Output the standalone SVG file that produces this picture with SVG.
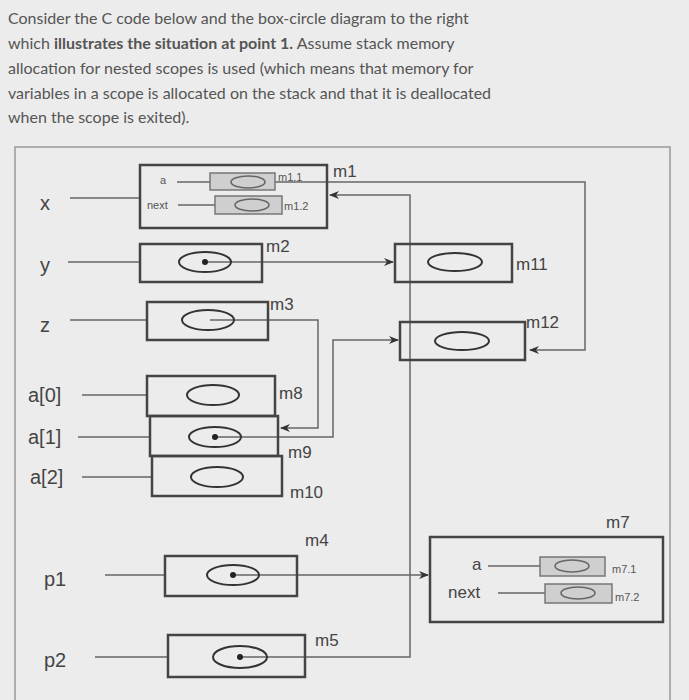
<svg xmlns="http://www.w3.org/2000/svg" width="689" height="700" viewBox="0 0 689 700">
<style>
.p{font-family:"Lato","Liberation Sans",sans-serif;font-size:16px;fill:#555}
.l{font-family:"Liberation Sans",sans-serif;font-size:20px;fill:#444}
.s{font-family:"Liberation Sans",sans-serif;font-size:17px;fill:#444}
.t{font-family:"Liberation Sans",sans-serif;font-size:11px;fill:#555}
.b{fill:none;stroke:#444;stroke-width:2.5}
.g{fill:#cfcfcf;stroke:#777;stroke-width:1.5}
.e{fill:none;stroke:#333;stroke-width:2}
.c{fill:none;stroke:#666;stroke-width:1.5}
</style>
<defs><marker id="a" markerWidth="10" markerHeight="8" refX="9" refY="4" orient="auto" markerUnits="userSpaceOnUse"><path d="M0,0 L10,4 L0,8 L3,4z" fill="#333"/></marker></defs>
<rect width="689" height="700" fill="#ececec"/>
<text class="p" x="8" y="24">Consider the C code below and the box-circle diagram to the right</text>
<text class="p" x="8" y="49">which <tspan font-weight="bold">illustrates the situation at point 1.</tspan> Assume stack memory</text>
<text class="p" x="8" y="74">allocation for nested scopes is used (which means that memory for</text>
<text class="p" x="8" y="99">variables in a scope is allocated on the stack and that it is deallocated</text>
<text class="p" x="8" y="123">when the scope is exited).</text>
<rect x="15" y="147" width="655" height="560" fill="none" stroke="#999" stroke-width="1.5"/>
<g id="connectors" class="c">
<line x1="70" y1="198" x2="140" y2="198"/>
<line x1="68" y1="262" x2="140" y2="262"/>
<line x1="70" y1="320" x2="147" y2="320"/>
<line x1="82" y1="395" x2="147" y2="395"/>
<line x1="78" y1="437" x2="150" y2="437"/>
<line x1="82" y1="477" x2="152" y2="477"/>
<line x1="105" y1="575" x2="165" y2="575"/>
<line x1="95" y1="657" x2="168" y2="657"/>
<line x1="177" y1="182" x2="210" y2="182"/>
<line x1="178" y1="205" x2="215" y2="205"/>
<line x1="488" y1="566" x2="540" y2="566"/>
<line x1="498" y1="593" x2="545" y2="593"/>
<polyline points="248,182 585,182 585,350 530,350" marker-end="url(#a)"/>
<line x1="205" y1="262" x2="393" y2="262" marker-end="url(#a)"/>
<polyline points="210,320 318,320 318,428 281,428" marker-end="url(#a)"/>
<polyline points="215,437 333,437 333,340 398,340" marker-end="url(#a)"/>
<line x1="233" y1="575" x2="428" y2="575" marker-end="url(#a)"/>
<polyline points="240,657 410,657 410,195 330,195" marker-end="url(#a)"/>
</g>
<g id="m1"><rect class="b" x="140" y="165" width="187" height="63"/>
<text class="t" x="160" y="184">a</text><text class="t" x="147" y="209">next</text>
<rect class="g" x="210" y="173" width="65" height="17"/><ellipse class="c" cx="248" cy="182" rx="17" ry="6"/>
<rect class="g" x="215" y="196" width="67" height="18"/><ellipse class="c" cx="252" cy="205" rx="17" ry="6"/>
<text class="t" x="278" y="181">m1.1</text><text class="t" x="284" y="210">m1.2</text>
<text class="s" x="333" y="177">m1</text></g>
<g id="m2"><rect class="b" x="140" y="244" width="122" height="38"/><ellipse class="e" cx="205" cy="262" rx="26" ry="10"/><circle cx="205" cy="262" r="3" fill="#222"/><text class="s" x="266" y="252">m2</text></g>
<g id="m3"><rect class="b" x="147" y="302" width="121" height="38"/><ellipse class="e" cx="208" cy="320" rx="26" ry="10"/><text class="s" x="270" y="310">m3</text></g>
<g id="m11"><rect class="b" x="395" y="244" width="117" height="38"/><ellipse class="e" cx="455" cy="262" rx="27" ry="9"/><text class="s" x="516" y="270">m11</text></g>
<g id="m12"><rect class="b" x="400" y="322" width="125" height="38"/><ellipse class="e" cx="462" cy="341" rx="27" ry="9"/><text class="s" x="526" y="328">m12</text></g>
<g id="m8"><rect class="b" x="147" y="376" width="128" height="40"/><ellipse class="e" cx="213" cy="395" rx="26" ry="10"/><text class="s" x="279" y="399">m8</text><text class="l" x="28" y="402">a[0]</text></g>
<g id="m9"><rect class="b" x="150" y="416" width="128" height="40"/><ellipse class="e" cx="215" cy="437" rx="26" ry="10"/><circle cx="215" cy="437" r="3" fill="#222"/><text class="s" x="288" y="458">m9</text><text class="l" x="28" y="444">a[1]</text></g>
<g id="m10"><rect class="b" x="152" y="456" width="130" height="40"/><ellipse class="e" cx="217" cy="477" rx="26" ry="10"/><text class="s" x="290" y="498">m10</text><text class="l" x="30" y="484">a[2]</text></g>
<g id="m4"><rect class="b" x="165" y="556" width="132" height="40"/><ellipse class="e" cx="233" cy="575" rx="26" ry="10"/><circle cx="233" cy="575" r="3" fill="#222"/><text class="s" x="305" y="546">m4</text><text class="l" x="44" y="586">p1</text></g>
<g id="m5"><rect class="b" x="168" y="635" width="137" height="42"/><ellipse class="e" cx="240" cy="657" rx="27" ry="11"/><circle cx="240" cy="657" r="3" fill="#222"/><text class="s" x="315" y="646">m5</text><text class="l" x="44" y="667">p2</text></g>
<g id="m7"><rect class="b" x="430" y="537" width="233" height="85"/>
<text class="s" x="472" y="570">a</text><text class="s" x="448" y="598">next</text>
<rect class="g" x="540" y="557" width="65" height="19"/><ellipse class="c" cx="572" cy="566" rx="17" ry="6"/>
<rect class="g" x="545" y="584" width="67" height="19"/><ellipse class="c" cx="578" cy="593" rx="17" ry="6"/>
<text class="t" x="612" y="573">m7.1</text><text class="t" x="615" y="601">m7.2</text>
<text class="s" x="606" y="528">m7</text></g>
<text class="l" x="40" y="210">x</text><text class="l" x="40" y="272">y</text><text class="l" x="40" y="332">z</text>
</svg>
